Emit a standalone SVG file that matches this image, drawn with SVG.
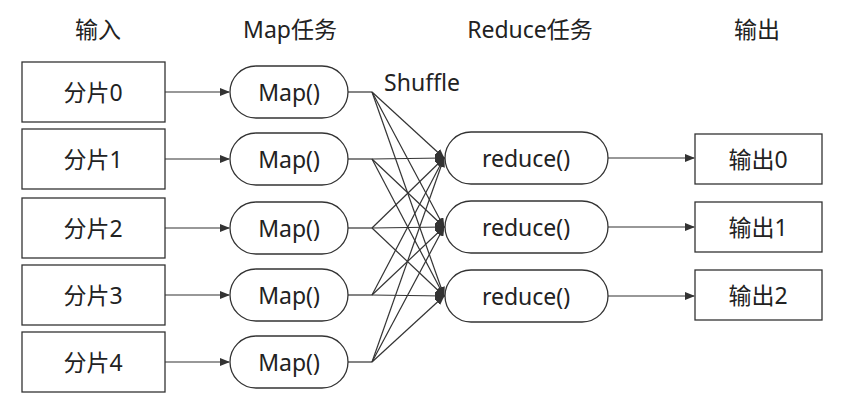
<svg xmlns="http://www.w3.org/2000/svg" width="842" height="400" viewBox="0 0 842 400">
<style>
text{font-family:"Noto Sans","Noto Sans CJK SC",sans-serif;fill:#222;text-anchor:middle;dominant-baseline:central}
.h{font-size:23px}.t{font-size:23px}
.b{fill:#fff;stroke:#333;stroke-width:1.3}
.c line{stroke:#333;stroke-width:1.2}
.a{marker-end:url(#ar)}
</style>
<defs><marker id="ar" markerWidth="10" markerHeight="8" refX="9" refY="4" orient="auto" markerUnits="userSpaceOnUse"><path d="M0,0L10,4L0,8z" fill="#333"/></marker></defs>
<rect width="842" height="400" fill="#fff"/>
<g id="headers"><text class="h" x="98" y="29">输入</text><text class="h" x="290" y="29">Map任务</text><text class="h" x="530" y="29">Reduce任务</text><text class="h" x="757" y="29">输出</text><text class="t" x="422" y="82">Shuffle</text></g>
<g id="in0"><rect class="b" x="22" y="62" width="143" height="60"/><text class="t" x="93" y="92">分片0</text></g>
<g id="in1"><rect class="b" x="22" y="129" width="143" height="60"/><text class="t" x="93" y="159">分片1</text></g>
<g id="in2"><rect class="b" x="22" y="198" width="143" height="60"/><text class="t" x="93" y="228">分片2</text></g>
<g id="in3"><rect class="b" x="22" y="265" width="143" height="60"/><text class="t" x="93" y="295">分片3</text></g>
<g id="in4"><rect class="b" x="22" y="332" width="143" height="60"/><text class="t" x="93" y="362">分片4</text></g>
<g id="m0"><rect class="b" x="230" y="66" width="118" height="52" rx="26"/><text class="t" x="289" y="92">Map()</text></g>
<g id="m1"><rect class="b" x="230" y="133" width="118" height="52" rx="26"/><text class="t" x="289" y="159">Map()</text></g>
<g id="m2"><rect class="b" x="230" y="202" width="118" height="52" rx="26"/><text class="t" x="289" y="228">Map()</text></g>
<g id="m3"><rect class="b" x="230" y="269" width="118" height="52" rx="26"/><text class="t" x="289" y="295">Map()</text></g>
<g id="m4"><rect class="b" x="230" y="336" width="118" height="52" rx="26"/><text class="t" x="289" y="362">Map()</text></g>
<g id="r0"><rect class="b" x="445" y="132" width="163" height="52" rx="26"/><text class="t" x="526" y="158">reduce()</text></g>
<g id="r1"><rect class="b" x="445" y="201" width="163" height="52" rx="26"/><text class="t" x="526" y="227">reduce()</text></g>
<g id="r2"><rect class="b" x="445" y="270" width="163" height="52" rx="26"/><text class="t" x="526" y="296">reduce()</text></g>
<g id="o0"><rect class="b" x="695" y="134" width="127" height="50"/><text class="t" x="758" y="159">输出0</text></g>
<g id="o1"><rect class="b" x="695" y="202" width="127" height="50"/><text class="t" x="758" y="227">输出1</text></g>
<g id="o2"><rect class="b" x="695" y="270" width="127" height="50"/><text class="t" x="758" y="295">输出2</text></g>
<g class="c" id="connectors">
<line class="a" x1="165" y1="92" x2="229" y2="92"/><line class="a" x1="165" y1="159" x2="229" y2="159"/><line class="a" x1="165" y1="228" x2="229" y2="228"/><line class="a" x1="165" y1="295" x2="229" y2="295"/><line class="a" x1="165" y1="362" x2="229" y2="362"/>
<line x1="348" y1="92" x2="372" y2="92"/><line x1="348" y1="159" x2="372" y2="159"/><line x1="348" y1="228" x2="372" y2="228"/><line x1="348" y1="295" x2="372" y2="295"/><line x1="348" y1="362" x2="372" y2="362"/>
<line class="a" x1="372" y1="92" x2="444" y2="158"/><line class="a" x1="372" y1="92" x2="444" y2="227"/><line class="a" x1="372" y1="92" x2="444" y2="296"/>
<line class="a" x1="372" y1="159" x2="444" y2="158"/><line class="a" x1="372" y1="159" x2="444" y2="227"/><line class="a" x1="372" y1="159" x2="444" y2="296"/>
<line class="a" x1="372" y1="228" x2="444" y2="158"/><line class="a" x1="372" y1="228" x2="444" y2="227"/><line class="a" x1="372" y1="228" x2="444" y2="296"/>
<line class="a" x1="372" y1="295" x2="444" y2="158"/><line class="a" x1="372" y1="295" x2="444" y2="227"/><line class="a" x1="372" y1="295" x2="444" y2="296"/>
<line class="a" x1="372" y1="362" x2="444" y2="158"/><line class="a" x1="372" y1="362" x2="444" y2="227"/><line class="a" x1="372" y1="362" x2="444" y2="296"/>
<line class="a" x1="608" y1="158" x2="694" y2="158"/><line class="a" x1="608" y1="227" x2="694" y2="227"/><line class="a" x1="608" y1="296" x2="694" y2="296"/>
</g>
</svg>
